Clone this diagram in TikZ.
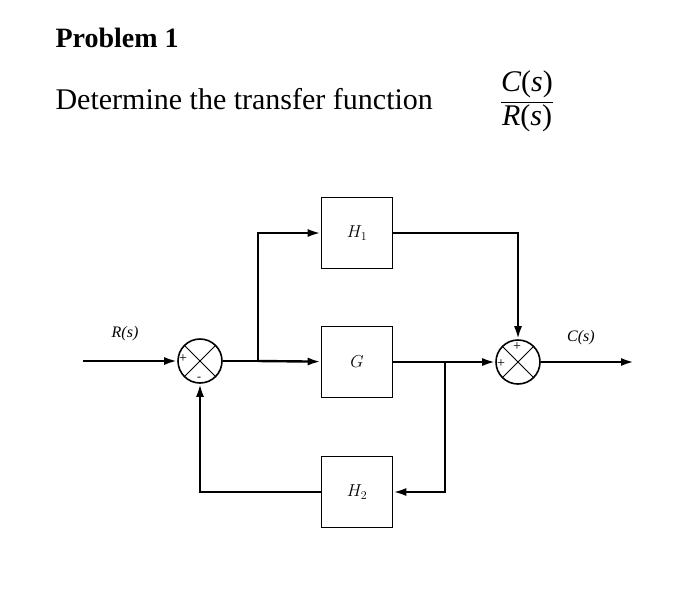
\documentclass[tikz,border=0pt]{standalone}
\usepackage{fontspec}
\setmainfont{Liberation Serif}
\usetikzlibrary{arrows.meta}
\begin{document}
\begin{tikzpicture}[x=1pt,y=-1pt,
  blk/.style={draw,line width=1.6pt,minimum width=71pt,minimum height=71pt,inner sep=0pt,font=\fontsize{17}{17}\selectfont\itshape},
  sumj/.style={draw,line width=1.6pt,circle,minimum size=44pt,inner sep=0pt},
  sig/.style={line width=2.4pt,-{Latex[length=13pt,width=8pt]}},
  ln/.style={line width=2.4pt},
  lbl/.style={font=\fontsize{16}{16}\selectfont}]
\useasboundingbox (0,0) rectangle (700,589);
\node[anchor=west,font=\fontsize{28}{28}\selectfont\bfseries] (title) at (52,38) {Problem 1};
\node[anchor=west,font=\fontsize{30}{30}\selectfont] (q) at (52,99) {Determine the transfer function};
\node[font=\fontsize{30}{30}\selectfont,inner sep=0pt] (fr) at (527,101) {$\displaystyle\frac{\textit{C}\textup{(}\textit{s}\textup{)}}{\textit{R}\textup{(}\textit{s}\textup{)}}$};
\node[blk] (h1) at (357,233) {$H_1$};
\node[blk] (g) at (357,362) {$G$};
\node[blk] (h2) at (357,492) {$H_2$};
\node[sumj] (s1) at (200,361) {};
\node[sumj] (s2) at (518,362) {};
\foreach \s in {s1,s2}{
 \draw[line width=0.8pt] (\s.north west)--(\s.south east) (\s.north east)--(\s.south west);}
\node[font=\fontsize{14}{14}\selectfont] at (183,359) {+};
\node[font=\fontsize{12}{12}\selectfont] at (199,379) {-};
\node[font=\fontsize{14}{14}\selectfont] at (501,364) {+};
\node[font=\fontsize{14}{14}\selectfont] at (517,347) {+};
\coordinate (in) at (83,361);
\coordinate (out) at (634,362);
\coordinate (b1) at (258,361);
\coordinate (b2) at (445,362);
\draw[sig] (in) -- (s1);
\draw[ln] (s1) -- (b1);
\draw[sig] (b1) -- (g);
\draw[sig] (b1) |- (h1);
\draw[sig] (h1.east) -| (s2);
\draw[ln] (g) -- (b2);
\draw[sig] (b2) -- (s2);
\draw[sig] (b2) |- (h2);
\draw[sig] (h2) -| (s1);
\draw[sig] (s2) -- (out);
\node[lbl] (rl) at (125,334) {\itshape R(s)};
\node[lbl] (cl) at (581,338) {\itshape C(s)};
\end{tikzpicture}
\end{document}
